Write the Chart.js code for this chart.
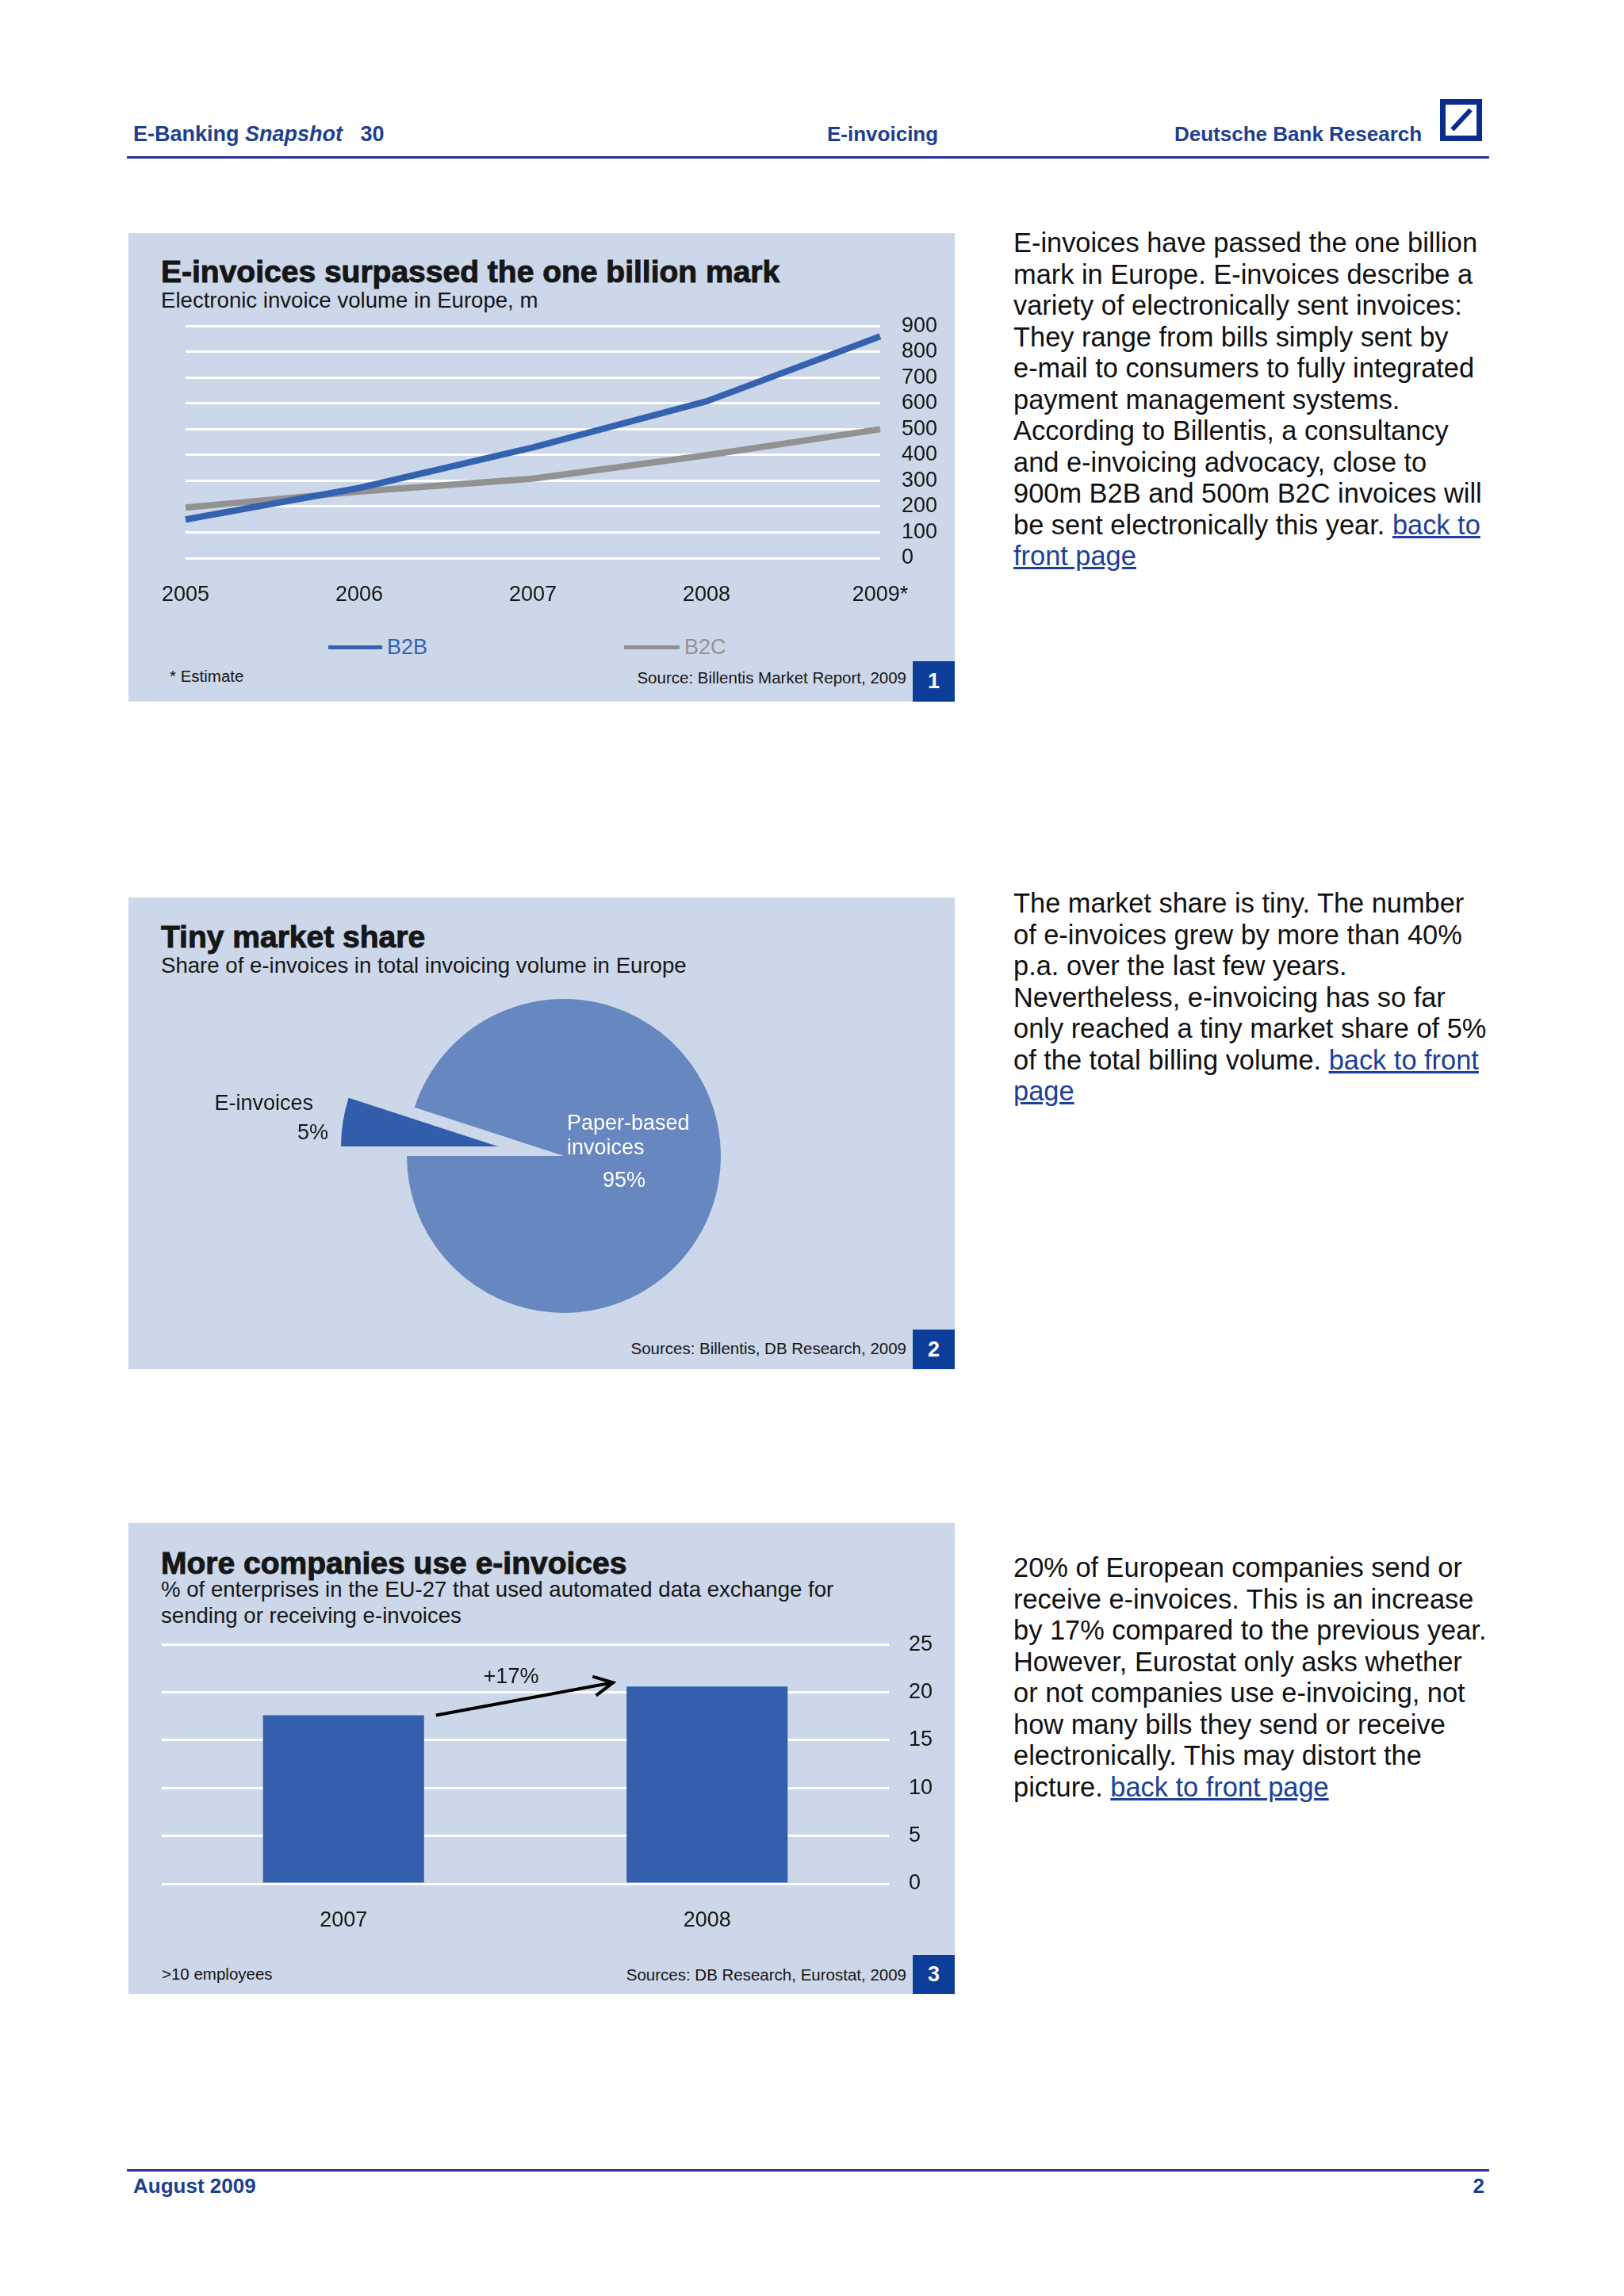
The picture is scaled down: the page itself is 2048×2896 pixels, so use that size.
<!DOCTYPE html>
<html>
<head>
<meta charset="utf-8">
<script src="https://cdn.jsdelivr.net/npm/chart.js@4.4.1/dist/chart.umd.min.js"></script>
<style>
  body { margin: 0; width: 2048px; height: 2896px; background: #fff; position: relative; font-family: 'Liberation Sans', Arial, sans-serif; color: #161616; overflow: hidden; }
  .abs { position: absolute; white-space: nowrap; }
  .hdr { font-size: 26px; font-weight: bold; color: #1d3f8e; line-height: 30px; }
  .rule { position: absolute; left: 160px; width: 1718px; height: 3px; background: #2a2f9c; }
  .panel { position: absolute; left: 162px; width: 1042px; background: #ccd7e9; }
  .title { font-size: 39px; font-weight: bold; line-height: 44px; left: 203px; -webkit-text-stroke: 1px #161616; }
  .sub { font-size: 27.6px; line-height: 33px; left: 203px; }
  .note { font-size: 20.5px; line-height: 24px; }
  .num { position: absolute; left: 1151px; width: 53px; background: #0c3d99; color: #fff; font-weight: bold; font-size: 27px; display: flex; align-items: center; justify-content: center; }
  .body { left: 1278px; font-size: 34.4px; line-height: 39.5px; color: #111; }
  .body a { color: #1c3f9a; text-decoration: underline; }
  canvas { position: absolute; }
  .leg { font-size: 27px; line-height: 30px; }
  .legline { position: absolute; height: 5px; }
</style>
</head>
<body>

<!-- header -->
<div class="abs hdr" style="left:168px; top:154px; font-size:27px;">E-Banking <i>Snapshot</i>&nbsp;&nbsp; 30</div>
<div class="abs hdr" style="left:1043px; top:154px;">E-invoicing</div>
<div class="abs hdr" style="left:1481px; top:154px;">Deutsche Bank Research</div>
<div class="abs" style="left:1816px; top:125px; width:53px; height:53px; box-sizing:border-box; border:7px solid #0b2c8c;"></div>
<div class="abs" style="left:1826px; top:148px; width:34px; height:6px; background:#0b2c8c; transform:rotate(-47deg);"></div>
<div class="rule" style="top:197px;"></div>

<!-- panel 1 -->
<div class="panel" style="top:294px; height:591px;"></div>
<div class="abs title" style="top:321px;">E-invoices surpassed the one billion mark</div>
<div class="abs sub" style="top:362px;">Electronic invoice volume in Europe, m</div>
<canvas id="lineChart" width="1042" height="422" style="left:162px; top:368px;"></canvas>
<div id="legend1"></div>
<div class="abs note" style="left:214px; top:841px;">* Estimate</div>
<div class="abs note" style="right:905px; top:843px;">Source: Billentis Market Report, 2009</div>
<div class="num" style="top:834px; height:51px;">1</div>

<!-- panel 2 -->
<div class="panel" style="top:1132px; height:595px;"></div>
<div class="abs title" style="top:1160px;">Tiny market share</div>
<div class="abs sub" style="top:1201px;">Share of e-invoices in total invoicing volume in Europe</div>
<canvas id="pieChart" width="1042" height="440" style="left:162px; top:1240px;"></canvas>
<canvas id="pieSlice" width="1042" height="440" style="left:79px; top:1228px;"></canvas>
<div class="abs note" style="right:905px; top:1689px;">Sources: Billentis, DB Research, 2009</div>
<div class="num" style="top:1677px; height:50px;">2</div>

<!-- panel 3 -->
<div class="panel" style="top:1921px; height:594px;"></div>
<div class="abs title" style="top:1950px;">More companies use e-invoices</div>
<div class="abs sub" style="top:1988px;">% of enterprises in the EU-27 that used automated data exchange for<br>sending or receiving e-invoices</div>
<canvas id="barChart" width="1042" height="427" style="left:162px; top:2033px;"></canvas>
<div class="abs note" style="left:204px; top:2478px;">&gt;10 employees</div>
<div class="abs note" style="right:905px; top:2479px;">Sources: DB Research, Eurostat, 2009</div>
<div class="num" style="top:2466px; height:49px;">3</div>

<!-- right column -->
<div class="abs body" style="top:287px;">E-invoices have passed the one billion<br>mark in Europe. E-invoices describe a<br>variety of electronically sent invoices:<br>They range from bills simply sent by<br>e-mail to consumers to fully integrated<br>payment management systems.<br>According to Billentis, a consultancy<br>and e-invoicing advocacy, close to<br>900m B2B and 500m B2C invoices will<br>be sent electronically this year. <a href="#">back to</a><br><a href="#">front page</a></div>
<div class="abs body" style="top:1120px;">The market share is tiny. The number<br>of e-invoices grew by more than 40%<br>p.a. over the last few years.<br>Nevertheless, e-invoicing has so far<br>only reached a tiny market share of 5%<br>of the total billing volume. <a href="#">back to front</a><br><a href="#">page</a></div>
<div class="abs body" style="top:1958px;">20% of European companies send or<br>receive e-invoices. This is an increase<br>by 17% compared to the previous year.<br>However, Eurostat only asks whether<br>or not companies use e-invoicing, not<br>how many bills they send or receive<br>electronically. This may distort the<br>picture. <a href="#">back to front page</a></div>

<!-- footer -->
<div class="rule" style="top:2736px;"></div>
<div class="abs hdr" style="left:168px; top:2742px;">August 2009</div>
<div class="abs hdr" style="right:176px; top:2742px;">2</div>

<script>
// chart 1: e-invoice volume, m
const YEARS = ['2005', '2006', '2007', '2008', '2009*'];
const B2B = [150, 272, 429, 608, 860];
const B2C = [196, 258, 308, 399, 500];
const SERIES_NAMES = ['B2B', 'B2C'];
const SERIES_COLORS = ['#3461b0', '#929292'];

// chart 2: share of e-invoices
const SHARE_LABELS = ['E-invoices', 'Paper-based invoices'];
const SHARE_VALUES = [5, 95];
const SHARE_COLORS = ['#325dab', '#6787c0'];

// chart 3: % of enterprises using e-invoices
const BAR_YEARS = ['2007', '2008'];
const ENTERPRISES = [17.6, 20.6];
const BAR_COLOR = '#335fad';

Chart.defaults.font.family = "'Liberation Sans', Arial, sans-serif";
Chart.defaults.color = '#161616';
Chart.defaults.animation = false;

const TXT = '#161616';

// legend for chart 1, laid out like the original
const legendPos = [{line: 414, w: 68, text: 488}, {line: 787, w: 70, text: 863}];
const legendHost = document.getElementById('legend1');
SERIES_NAMES.forEach(function (name, i) {
    const ln = document.createElement('div');
    ln.className = 'legline';
    ln.style.left = legendPos[i].line + 'px';
    ln.style.width = legendPos[i].w + 'px';
    ln.style.top = '814px';
    ln.style.background = SERIES_COLORS[i];
    legendHost.appendChild(ln);
    const tx = document.createElement('div');
    tx.className = 'abs leg';
    tx.style.left = legendPos[i].text + 'px';
    tx.style.top = '801px';
    tx.style.color = SERIES_COLORS[i];
    tx.textContent = name;
    legendHost.appendChild(tx);
});

new Chart(document.getElementById('lineChart'), {
    type: 'line',
    data: {
        labels: YEARS,
        datasets: [
            {label: SERIES_NAMES[0], data: B2B, borderColor: SERIES_COLORS[0], backgroundColor: SERIES_COLORS[0], borderWidth: 8},
            {label: SERIES_NAMES[1], data: B2C, borderColor: SERIES_COLORS[1], backgroundColor: SERIES_COLORS[1], borderWidth: 8}
        ]
    },
    options: {
        responsive: false,
        layout: {padding: {left: 72, top: 0, right: 0, bottom: 0}},
        elements: {point: {radius: 0}, line: {tension: 0}},
        plugins: {legend: {display: false}, tooltip: {enabled: false}},
        scales: {
            x: {
                grid: {display: false},
                border: {display: false},
                ticks: {padding: 22, font: {size: 27}, color: TXT, maxRotation: 0, autoSkip: false},
                afterFit: function (axis) { axis.height = 86; }
            },
            y: {
                position: 'right',
                min: 0,
                max: 900,
                ticks: {stepSize: 100, padding: 27, font: {size: 27}, color: TXT, autoSkip: false},
                grid: {color: '#ffffff', lineWidth: 3, drawTicks: false},
                border: {display: false},
                afterFit: function (axis) { axis.width = 94; }
            }
        }
    }
});

const pieText = {
    id: 'pieText',
    afterDatasetsDraw: function (chart) {
        const arc = chart.getDatasetMeta(0).data[1];
        const ctx = chart.ctx;
        const x = arc.x, y = arc.y;
        ctx.save();
        ctx.font = "27px 'Liberation Sans', Arial, sans-serif";
        ctx.textBaseline = 'middle';
        const paper = SHARE_LABELS[1].split(' ');
        ctx.fillStyle = '#ffffff';
        ctx.textAlign = 'left';
        ctx.fillText(paper[0], x + 4, y - 40);
        ctx.fillText(paper[1], x + 4, y - 9);
        ctx.textAlign = 'center';
        ctx.fillText(SHARE_VALUES[1] + '%', x + 76, y + 32);
        ctx.fillStyle = TXT;
        ctx.textAlign = 'right';
        ctx.fillText(SHARE_LABELS[0], x - 316, y - 65);
        ctx.fillText(SHARE_VALUES[0] + '%', x - 297, y - 28);
        ctx.restore();
    }
};

function pieConfig(colors, plugins) {
    return {
        type: 'pie',
        data: {
            labels: SHARE_LABELS,
            datasets: [{data: SHARE_VALUES, backgroundColor: colors, borderWidth: 0, rotation: 270, radius: 198}]
        },
        options: {
            responsive: false,
            layout: {padding: {left: 56, right: 0, top: 0, bottom: 4}},
            plugins: {legend: {display: false}, tooltip: {enabled: false}}
        },
        plugins: plugins
    };
}

// body of the pie, then the pulled-out e-invoice slice on its own canvas
new Chart(document.getElementById('pieChart'), pieConfig(['rgba(0,0,0,0)', SHARE_COLORS[1]], [pieText]));
new Chart(document.getElementById('pieSlice'), pieConfig([SHARE_COLORS[0], 'rgba(0,0,0,0)'], []));

const growthArrow = {
    id: 'growthArrow',
    afterDatasetsDraw: function (chart) {
        const meta = chart.getDatasetMeta(0);
        const b0 = meta.data[0], b1 = meta.data[1];
        const x0 = b0.x + b0.width / 2 + 15, y0 = b0.y;
        const x1 = b1.x - b1.width / 2 - 17, y1 = b1.y - 5;
        const ang = Math.atan2(y1 - y0, x1 - x0);
        const ctx = chart.ctx;
        ctx.save();
        ctx.strokeStyle = '#000';
        ctx.lineWidth = 4;
        ctx.beginPath();
        ctx.moveTo(x0, y0);
        ctx.lineTo(x1, y1);
        ctx.stroke();
        ctx.beginPath();
        ctx.moveTo(x1 + 27 * Math.cos(ang + Math.PI - 0.47), y1 + 27 * Math.sin(ang + Math.PI - 0.47));
        ctx.lineTo(x1, y1);
        ctx.lineTo(x1 + 27 * Math.cos(ang + Math.PI + 0.47), y1 + 27 * Math.sin(ang + Math.PI + 0.47));
        ctx.stroke();
        const growth = Math.round((ENTERPRISES[1] / ENTERPRISES[0] - 1) * 100);
        ctx.fillStyle = TXT;
        ctx.font = "27px 'Liberation Sans', Arial, sans-serif";
        ctx.textAlign = 'center';
        ctx.textBaseline = 'middle';
        ctx.fillText('+' + growth + '%', (x0 + x1) / 2 - 17, (y0 + y1) / 2 - 27);
        ctx.restore();
    }
};

new Chart(document.getElementById('barChart'), {
    type: 'bar',
    data: {
        labels: BAR_YEARS,
        datasets: [{data: ENTERPRISES, backgroundColor: BAR_COLOR, barPercentage: 0.443, categoryPercentage: 1}]
    },
    options: {
        responsive: false,
        layout: {padding: {left: 42, top: 0, right: 0, bottom: 0}},
        plugins: {legend: {display: false}, tooltip: {enabled: false}},
        scales: {
            x: {
                grid: {display: false},
                border: {display: false},
                ticks: {padding: 22, font: {size: 27}, color: TXT},
                afterFit: function (axis) { axis.height = 84; }
            },
            y: {
                position: 'right',
                min: 0,
                max: 25,
                ticks: {stepSize: 5, padding: 25, font: {size: 27}, color: TXT, autoSkip: false},
                grid: {color: '#ffffff', lineWidth: 3, drawTicks: false},
                border: {display: false},
                afterFit: function (axis) { axis.width = 83; }
            }
        }
    },
    plugins: [growthArrow]
});
</script>
</body>
</html>
